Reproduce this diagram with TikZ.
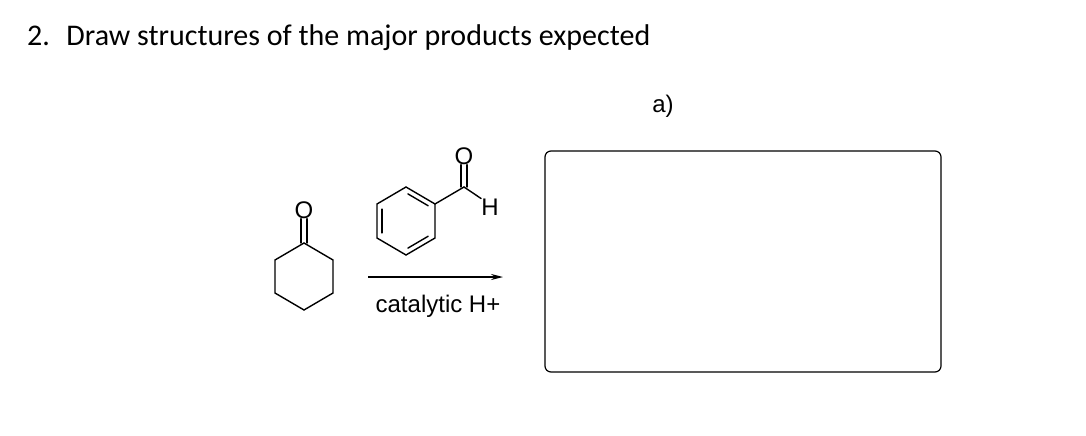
\documentclass[tikz,border=0pt]{standalone}
\usepackage{fontspec}
\usetikzlibrary{calc,arrows.meta}
\setmainfont{Liberation Sans}
\newfontfamily\titlefont{Carlito}
\begin{document}
\begin{tikzpicture}[x=1pt,y=-1pt,
  bond/.style={line width=1.4pt,line cap=round},
  lbl/.style={inner sep=0pt,font=\fontsize{24}{24}\selectfont}]
\useasboundingbox (0,0) rectangle (1086,436);
\node[anchor=west,inner sep=0pt,font=\titlefont\fontsize{30}{30}\selectfont] (title) at (27,38) {2.\hspace{0.55em}Draw structures of the major products expected};
\node[lbl] (alab) at (663,106) {a)};
\draw[line width=1.2pt,rounded corners=6pt] (545,151) rectangle (941,372);
% cyclohexanone
\coordinate (c1) at (304,243); \coordinate (c2) at (333,260); \coordinate (c3) at (333,293);
\coordinate (c4) at (304,310); \coordinate (c5) at (275,293); \coordinate (c6) at (275,260);
\draw[bond] (c1)--(c2)--(c3)--(c4)--(c5)--(c6)--cycle;
\node[lbl] (o1) at (304,210) {O};
\draw[bond] ([xshift=-3]c1) -- ([xshift=-3]o1.south);
\draw[bond] ([xshift=3]c1) -- ([xshift=3]o1.south);
% benzaldehyde
\coordinate (b1) at (406,187); \coordinate (b2) at (435,204); \coordinate (b3) at (435,238);
\coordinate (b4) at (406,255); \coordinate (b5) at (377,238); \coordinate (b6) at (377,204);
\draw[bond] (b1)--(b2)--(b3)--(b4)--(b5)--(b6)--cycle;
\draw[bond] ($(b6)!0.15!(b5)+(5,0)$) -- ($(b5)!0.15!(b6)+(5,0)$);
\draw[bond] ($(b1)!0.15!(b2)+(-2.5,4.3)$) -- ($(b2)!0.15!(b1)+(-2.5,4.3)$);
\draw[bond] ($(b3)!0.15!(b4)+(-2.5,-4.3)$) -- ($(b4)!0.15!(b3)+(-2.5,-4.3)$);
\coordinate (cc) at (464,187);
\draw[bond] (b2) -- (cc);
\node[lbl] (o2) at (464,156) {O};
\node[lbl] (h) at (490,207) {H};
\draw[bond] ([xshift=-3]cc) -- ([xshift=-3]o2.south);
\draw[bond] ([xshift=3]cc) -- ([xshift=3]o2.south);
\draw[bond] (cc) -- (h.north west);
% arrow
\coordinate (a1) at (368,277); \coordinate (a2) at (503,277);
\draw[line width=1.4pt,-{Stealth[length=12pt,width=6pt]}] (a1) -- (a2);
\node[lbl] (cat) at (438,306) {catalytic H+};
\end{tikzpicture}
\end{document}
